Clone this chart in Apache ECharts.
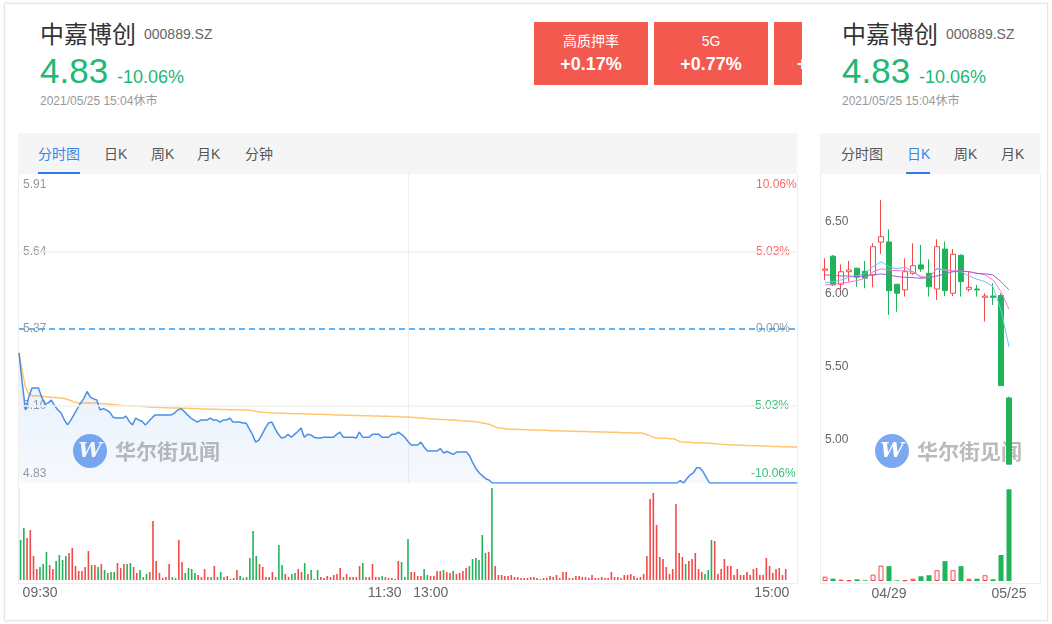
<!DOCTYPE html>
<html>
<head>
<meta charset="utf-8">
<script src="https://cdn.jsdelivr.net/npm/echarts/dist/echarts.min.js"></script>
<style>
  body { margin: 0; background: #fff; }
  #wrap { position: relative; width: 1052px; height: 624px; overflow: hidden; background: #fff;
    font-family: "Liberation Sans", "Noto Sans CJK SC", sans-serif; }
  .frame { position: absolute; left: 4px; top: 3px; width: 1042px; height: 616px; border: 1px solid #e6e6e6;
    box-shadow: 0 0 3px rgba(0,0,0,0.08); }
  .abs { position: absolute; white-space: nowrap; }
  .name { font-size: 24px; line-height: 28px; color: #333; }
  .code { font-size: 14px; line-height: 16px; color: #666; }
  .price { font-size: 35px; line-height: 40px; color: #21b873; }
  .pct { font-size: 18px; line-height: 20px; color: #21b873; }
  .date { font-size: 12px; line-height: 14px; color: #999; }
  .banners { position: absolute; left: 534px; top: 22px; width: 268px; height: 63px; overflow: hidden; }
  .box { position: absolute; top: 0; width: 114px; height: 63px; background: #f4594f; color: #fff; text-align: center; }
  .box .t { position: absolute; left: 0; right: 0; top: 11px; font-size: 14px; line-height: 16px; }
  .box .v { position: absolute; left: 0; right: 0; top: 32px; font-size: 18px; line-height: 20px; font-weight: bold; }
  .tabbar { position: absolute; top: 133px; height: 41px; background: #f5f5f5; }
  .tab { position: absolute; top: 146px; font-size: 14px; line-height: 16px; color: #555; }
  .tab.on { color: #3a84e4; }
  .ul { position: absolute; top: 172px; height: 2px; background: #2b7de9; }
  .panel { position: absolute; border: 1px solid #eeeeee; border-top: none; }
  #chart { position: absolute; left: 0; top: 0; width: 1052px; height: 624px; z-index: 5; }
</style>
</head>
<body>
<div id="wrap">
  <div class="frame"></div>

  <div class="abs name" style="left:40px;top:21px">中嘉博创</div>
  <div class="abs code" style="left:144px;top:26px">000889.SZ</div>
  <div class="abs price" style="left:40px;top:51px">4.83</div>
  <div class="abs pct" style="left:117px;top:67px">-10.06%</div>
  <div class="abs date" style="left:40px;top:94px">2021/05/25 15:04休市</div>

  <div class="banners">
    <div class="box" style="left:0"><div class="t">高质押率</div><div class="v">+0.17%</div></div>
    <div class="box" style="left:120px"><div class="t">5G</div><div class="v">+0.77%</div></div>
    <div class="box" style="left:240px"><div class="v" style="text-align:left;left:23px">+</div></div>
  </div>

  <div class="abs name" style="left:842px;top:21px">中嘉博创</div>
  <div class="abs code" style="left:946px;top:26px">000889.SZ</div>
  <div class="abs price" style="left:842px;top:51px">4.83</div>
  <div class="abs pct" style="left:919px;top:67px">-10.06%</div>
  <div class="abs date" style="left:842px;top:94px">2021/05/25 15:04休市</div>

  <div class="tabbar" style="left:18px;width:779px"></div>
  <div class="tab on" style="left:38px">分时图</div>
  <div class="tab" style="left:104px">日K</div>
  <div class="tab" style="left:151px">周K</div>
  <div class="tab" style="left:197px">月K</div>
  <div class="tab" style="left:245px">分钟</div>
  <div class="ul" style="left:38px;width:42px"></div>
  <div class="panel" style="left:18px;top:174px;width:778px;height:409px"></div>

  <div class="tabbar" style="left:820px;width:220px"></div>
  <div class="tab" style="left:841px">分时图</div>
  <div class="tab on" style="left:907px">日K</div>
  <div class="tab" style="left:954px">周K</div>
  <div class="tab" style="left:1001px">月K</div>
  <div class="ul" style="left:906px;width:24px"></div>
  <div class="panel" style="left:820px;top:174px;width:219px;height:409px"></div>

  <div id="chart"></div>
</div>
<script>
// ---- 分时 data ----
const prevClose = 5.37;
const priceTicks = [4.83, 5.10, 5.37, 5.64, 5.91];
const pctTicks = [-10.06, -5.03, 0, 5.03, 10.06];

const price = [
  5.285, 5.18, 5.085, 5.13, 5.162, 5.162, 5.162, 5.13, 5.105, 5.11,
  5.12, 5.10, 5.085, 5.075, 5.05, 5.033, 5.05, 5.07, 5.09, 5.11,
  5.125, 5.15, 5.13, 5.124, 5.12, 5.085, 5.09, 5.085, 5.078, 5.06,
  5.057, 5.057, 5.057, 5.064, 5.045, 5.033, 5.057, 5.05, 5.045, 5.033,
  5.045, 5.057, 5.068, 5.068, 5.068, 5.068, 5.068, 5.068, 5.075, 5.085,
  5.09, 5.08, 5.068, 5.057, 5.05, 5.043, 5.05, 5.05, 5.05, 5.057,
  5.05, 5.05, 5.043, 5.05, 5.05, 5.057, 5.043, 5.043, 5.043, 5.04,
  5.04, 5.02, 5.0, 4.973, 4.98, 5.0, 5.022, 5.04, 5.043, 5.02,
  5.0, 4.987, 4.99, 5.0, 4.99, 5.0, 5.01, 5.022, 4.99, 5.0,
  4.998, 4.99, 4.987, 4.987, 4.99, 4.99, 4.99, 4.99, 5.0, 5.008,
  4.99, 4.99, 4.99, 4.99, 4.987, 5.008, 4.99, 4.99, 4.99, 5.0,
  5.0, 5.0, 4.99, 4.99, 4.99, 5.0, 5.0, 5.008, 5.0, 4.99,
  4.975, 4.963, 4.963, 4.963, 4.973, 4.955, 4.942, 4.942, 4.942, 4.942,
  4.95, 4.935, 4.94, 4.935, 4.93, 4.938, 4.938, 4.938, 4.938, 4.925,
  4.9, 4.88, 4.865, 4.855, 4.845, 4.84, 4.83, 4.83, 4.83, 4.83,
  4.83, 4.83, 4.83, 4.83, 4.83, 4.83, 4.83, 4.83, 4.83, 4.83,
  4.83, 4.83, 4.83, 4.83, 4.83, 4.83, 4.83, 4.83, 4.83, 4.83,
  4.83, 4.83, 4.83, 4.83, 4.83, 4.83, 4.83, 4.83, 4.83, 4.83,
  4.83, 4.83, 4.83, 4.83, 4.83, 4.83, 4.83, 4.83, 4.83, 4.83,
  4.83, 4.83, 4.83, 4.83, 4.83, 4.83, 4.83, 4.83, 4.83, 4.83,
  4.83, 4.83, 4.83, 4.83, 4.838, 4.83, 4.845, 4.858, 4.865, 4.883,
  4.883, 4.87, 4.85, 4.83, 4.83, 4.83, 4.83, 4.83, 4.83, 4.83,
  4.83, 4.83, 4.83, 4.83, 4.83, 4.83, 4.83, 4.83, 4.83, 4.83,
  4.83, 4.83, 4.83, 4.83, 4.83, 4.83, 4.83, 4.83, 4.83, 4.83,
  4.83
];

const avgPrice = [
  5.285, 5.22, 5.165, 5.14, 5.135, 5.135, 5.134, 5.133, 5.132, 5.13,
  5.13, 5.129, 5.128, 5.127, 5.125, 5.122, 5.118, 5.113, 5.11, 5.11,
  5.11, 5.11, 5.11, 5.11, 5.109, 5.108, 5.107, 5.106, 5.105, 5.104,
  5.103, 5.102, 5.101, 5.1, 5.1, 5.099, 5.098, 5.098, 5.097, 5.097,
  5.096, 5.095, 5.095, 5.094, 5.094, 5.093, 5.093, 5.092, 5.092, 5.092,
  5.091, 5.091, 5.091, 5.09, 5.09, 5.09, 5.089, 5.089, 5.089, 5.088,
  5.088, 5.088, 5.087, 5.087, 5.087, 5.086, 5.086, 5.086, 5.085, 5.085,
  5.085, 5.084, 5.083, 5.081, 5.079, 5.077, 5.076, 5.076, 5.075, 5.075,
  5.075, 5.074, 5.074, 5.073, 5.073, 5.072, 5.072, 5.072, 5.071, 5.071,
  5.071, 5.07, 5.07, 5.07, 5.069, 5.069, 5.069, 5.068, 5.068, 5.068,
  5.067, 5.067, 5.067, 5.066, 5.066, 5.066, 5.065, 5.065, 5.065, 5.064,
  5.064, 5.064, 5.063, 5.063, 5.063, 5.062, 5.062, 5.062, 5.061, 5.061,
  5.061, 5.06, 5.059, 5.058, 5.057, 5.056, 5.055, 5.054, 5.054, 5.053,
  5.052, 5.052, 5.051, 5.05, 5.05, 5.049, 5.048, 5.047, 5.047, 5.046,
  5.045, 5.044, 5.042, 5.04, 5.038, 5.035, 5.031, 5.026, 5.022, 5.021,
  5.02, 5.019, 5.018, 5.018, 5.017, 5.017, 5.016, 5.016, 5.015, 5.015,
  5.015, 5.014, 5.014, 5.014, 5.013, 5.013, 5.013, 5.012, 5.012, 5.012,
  5.011, 5.011, 5.011, 5.01, 5.01, 5.01, 5.009, 5.009, 5.009, 5.008,
  5.008, 5.008, 5.007, 5.007, 5.007, 5.007, 5.006, 5.006, 5.006, 5.006,
  5.005, 5.005, 5.005, 5.002, 4.998, 4.993, 4.989, 4.987, 4.986, 4.986,
  4.986, 4.985, 4.985, 4.979, 4.974, 4.973, 4.972, 4.972, 4.971, 4.971,
  4.971, 4.97, 4.97, 4.969, 4.968, 4.967, 4.966, 4.965, 4.965, 4.964,
  4.963, 4.963, 4.962, 4.962, 4.961, 4.961, 4.96, 4.96, 4.96, 4.959,
  4.959, 4.959, 4.958, 4.958, 4.958, 4.957, 4.957, 4.957, 4.956, 4.956,
  4.956
];

const volume = [
  40, 52, 42, 50, 24, 11, 13, 16, 28, 15, 11, 19, 25, 20, 24, 27, 32, 14, 9, 9,
  13, 29, 15, 15, 13, 16, 10, 7, 8, 8, 17, 12, 16, 16, 17, 13, 7, 10, 3, 6,
  8, 59, 19, 7, 2, 3, 16, 3, 2, 40, 18, 7, 12, 11, 7, 5, 3, 11, 3, 3,
  14, 3, 8, 3, 4, 1, 2, 10, 4, 2, 3, 22, 49, 24, 16, 13, 3,
  3, 8, 3, 35, 15, 6, 3, 6, 7, 11, 8, 17, 6, 10, 1, 10, 3, 2, 4, 3,
  5, 6, 12, 3, 6, 3, 3, 3, 14, 17, 3, 3, 16, 3, 3, 4, 3, 2, 2, 1,
  19, 18, 3, 41, 8, 8, 4, 4, 11, 5, 4, 4, 9, 9, 10, 8, 7, 9, 6, 7,
  9, 12, 14, 21, 22, 20, 45, 27, 28, 92, 14, 5, 5, 4, 4, 5, 3, 3,
  2, 2, 2, 3, 3, 2, 1, 2, 2, 4, 3, 5, 2, 8, 8, 2, 2, 4, 4, 3,
  3, 2, 5, 2, 2, 3, 2, 2, 8, 3, 3, 2, 5, 5, 6, 4, 2, 3, 6, 24,
  81, 87, 55, 23, 21, 13, 6, 11, 76, 27, 23, 16, 19, 21, 27, 11, 8, 6, 10, 40,
  39, 6, 11, 21, 14, 14, 5, 11, 5, 5, 8, 5, 11, 12, 5, 5, 22, 14, 7, 11,
  12, 5, 11
];
// r = 红(涨), g = 绿(跌)
const volumeDir =
  'ggrrrrgggr' + 'rggggrrrrr' + 'rrgrgrgrgg' + 'rrrggrrggg' + 'rrrrrrrggr' + 'rggggrrrrg' + 'rggrrgrrgg' + 'ggggrrr' +
  'rrgggrrggr' + 'rgrgggrrrr' + 'rrrgrrrrrg' + 'rrrrrgrrrr' + 'rgggrrrrgg' + 'rrrrgrrgrr' + 'rrggggggrg' + 'rrrrrrrr' +
  'rrrrrrrrrr' + 'rrrrrrrrrr' + 'rrrrrrrrrr' + 'rrrrrrrrrr' + 'rrrrrrrrrr' + 'rgrrrrrggg' + 'rrrrrrrrrr' + 'rrrrrrrrrr' + 'rrr';

const times = [];
const hhmm = m => String(Math.floor(m / 60)).padStart(2, '0') + ':' + String(m % 60).padStart(2, '0');
for (let m = 0; m <= 120; m++) times.push(hhmm(570 + m));
for (let m = 1; m <= 120; m++) times.push(hhmm(780 + m));

// ---- 日K data ----
const kDates = ['04/19', '04/20', '04/21', '04/22', '04/23', '04/26', '04/27', '04/28', '04/29', '04/30', '05/06', '05/07',
  '05/10', '05/11', '05/12', '05/13', '05/14', '05/17', '05/18', '05/19', '05/20', '05/21', '05/24', '05/25'];
const kOpen  = [6.163, 6.26, 6.067, 6.153, 6.177, 6.156, 6.131, 6.356, 6.358, 6.067, 6.028, 6.142,
  6.20, 6.142, 6.034, 6.309, 6.005, 6.266, 6.032, 6.034, 5.977, 5.986, 5.99, 5.285];
const kClose = [6.172, 6.062, 6.153, 6.165, 6.115, 6.108, 6.325, 6.394, 6.023, 6.005, 6.153, 6.195,
  6.172, 6.05, 6.325, 6.023, 6.273, 6.085, 6.046, 6.028, 5.986, 5.977, 5.37, 4.83];
const kLow   = [6.096, 6.055, 6.034, 6.085, 6.05, 6.039, 6.046, 6.275, 5.856, 5.878, 5.982, 6.131,
  6.153, 5.982, 5.959, 5.986, 5.986, 5.982, 6.016, 5.982, 5.81, 5.924, 5.37, 4.83];
const kHigh  = [6.245, 6.268, 6.204, 6.227, 6.181, 6.227, 6.349, 6.646, 6.445, 6.067, 6.245, 6.349,
  6.337, 6.239, 6.376, 6.36, 6.309, 6.273, 6.153, 6.062, 6.005, 6.074, 6.005, 5.294];
const ma5  = [6.078, 6.085, 6.096, 6.115, 6.124, 6.142, 6.188, 6.222, 6.188, 6.172, 6.183, 6.153,
  6.112, 6.115, 6.177, 6.165, 6.153, 6.153, 6.124, 6.101, 6.085, 6.05, 5.89, 5.637];
const ma10 = [6.062, 6.067, 6.074, 6.081, 6.092, 6.108, 6.153, 6.172, 6.165, 6.16, 6.16, 6.153,
  6.119, 6.115, 6.172, 6.165, 6.16, 6.158, 6.153, 6.142, 6.131, 6.096, 6.016, 5.895];
const ma20 = [6.131, 6.128, 6.124, 6.124, 6.119, 6.124, 6.131, 6.138, 6.131, 6.119, 6.115, 6.112,
  6.108, 6.112, 6.124, 6.138, 6.153, 6.158, 6.153, 6.142, 6.138, 6.131, 6.085, 6.028];
const kVolume = [4.3, 2.3, 1.3, 0.7, 1.7, 0.7, 6.3, 15.3, 14.7, 0.7, 0.7, 2.3,
  4.7, 5.7, 10.7, 19.7, 10.7, 14.7, 2.3, 2.3, 5.7, 1.7, 25.7, 90.7];
const kTickValues = [5.0, 5.5, 6.0, 6.5];

const RED = '#f24a48';
const GREEN = '#20b45a';
const FONT = '"Liberation Sans", "Noto Sans CJK SC", sans-serif';

const chart = echarts.init(document.getElementById('chart'), null, { renderer: 'canvas' });

// 上下两端的刻度标签往里挪
function edgeLabel(v, lo, hi, txt, style) {
  if (v === hi) return '{' + style + 'T|' + txt + '}';
  if (v === lo) return '{' + style + 'B|' + txt + '}';
  return '{' + style + '|' + txt + '}';
}
function richSet(name, color, padLeft) {
  const o = {};
  o[name] = { color: color, fontSize: 12, fontFamily: FONT, padding: [0, 0, 0, padLeft] };
  o[name + 'T'] = { color: color, fontSize: 12, fontFamily: FONT, padding: [22, 0, 0, padLeft] };
  o[name + 'B'] = { color: color, fontSize: 12, fontFamily: FONT, padding: [0, 0, 18, padLeft] };
  return o;
}

function watermark(cx, cy, tx) {
  return [
    { type: 'circle', shape: { cx: cx, cy: cy, r: 17 }, style: { fill: 'rgba(70,135,235,0.72)' }, z: 1 },
    { type: 'text', x: cx, y: cy + 1, style: { text: 'W', fill: '#fff', font: 'bold italic 21px "DejaVu Serif"',
      align: 'center', verticalAlign: 'middle' }, z: 1 },
    { type: 'text', x: tx, y: cy, style: { text: '华尔街见闻', fill: 'rgba(130,130,130,0.55)',
      font: 'bold 21px "Noto Sans CJK SC"', verticalAlign: 'middle' }, z: 1 }
  ];
}

chart.setOption({
  animation: false,
  textStyle: { fontFamily: FONT },
  graphic: watermark(90, 451, 115).concat(watermark(892, 451, 917)),
  grid: [
    { left: 19, top: 174, width: 778, height: 309 },
    { left: 19, top: 488, width: 778, height: 92 },
    { left: 821, top: 175, width: 192, height: 313 },
    { left: 821, top: 489, width: 192, height: 92 }
  ],
  xAxis: [
    { type: 'category', gridIndex: 0, data: times, boundaryGap: false,
      axisLine: { show: false }, axisTick: { show: false }, axisLabel: { show: false },
      splitLine: { show: true, interval: i => i === 120, lineStyle: { color: '#eeeeee' } } },
    { type: 'category', gridIndex: 1, data: times, boundaryGap: true,
      axisLine: { show: false }, axisTick: { show: false },
      splitLine: { show: true, interval: i => i === 120, lineStyle: { color: '#eeeeee' } },
      axisLabel: {
        interval: i => i === 0 || i === 120 || i === 240,
        alignMinLabel: 'left', alignMaxLabel: 'right', margin: 6,
        color: '#666', fontSize: 14,
        formatter: (v, i) => i === 0 ? '{a|09:30}' : i === 120 ? '11:30   13:00' : '{b|15:00}',
        rich: {
          a: { color: '#666', fontSize: 14, padding: [0, 0, 0, 2] },
          b: { color: '#666', fontSize: 14, padding: [0, 6, 0, 0] }
        }
      } },
    { type: 'category', gridIndex: 2, data: kDates, boundaryGap: true,
      axisLine: { show: false }, axisTick: { show: false }, axisLabel: { show: false }, splitLine: { show: false } },
    { type: 'category', gridIndex: 3, data: kDates, boundaryGap: true,
      axisLine: { show: false }, axisTick: { show: false }, splitLine: { show: false },
      axisLabel: { interval: i => i === 8 || i === 23, color: '#666', fontSize: 14, margin: 6 } }
  ],
  yAxis: [
    { type: 'value', gridIndex: 0, min: 4.83, max: 5.91, position: 'left',
      axisLine: { show: false }, axisTick: { show: false }, splitLine: { show: false },
      axisLabel: {
        inside: true, margin: 4, align: 'left', customValues: priceTicks,
        formatter: v => edgeLabel(v, 4.83, 5.91, v.toFixed(2), 'g'),
        rich: richSet('g', '#999', 0)
      } },
    { type: 'value', gridIndex: 0, min: -10.06, max: 10.06, position: 'right',
      axisLine: { show: false }, axisTick: { show: false }, splitLine: { show: false },
      axisLabel: {
        inside: true, margin: 46, align: 'left', customValues: pctTicks,
        formatter: v => edgeLabel(v, -10.06, 10.06, v.toFixed(2) + '%', v > 0 ? 'up' : v < 0 ? 'dn' : 'z'),
        rich: Object.assign({}, richSet('up', '#f76b6b', 5), richSet('dn', '#3cc07a', 0), richSet('z', '#999', 5))
      } },
    { type: 'value', gridIndex: 1, min: 0, max: 92, show: false },
    { type: 'value', gridIndex: 2, min: 4.666, max: 6.818,
      axisLine: { show: false }, axisTick: { show: false }, splitLine: { show: false },
      axisLabel: { inside: true, margin: 4, align: 'left', customValues: kTickValues,
        formatter: v => v.toFixed(2), color: '#666', fontSize: 12 } },
    { type: 'value', gridIndex: 3, min: 0, max: 91, show: false }
  ],
  series: [
    { name: '价格', type: 'line', xAxisIndex: 0, yAxisIndex: 0, data: price,
      showSymbol: false, z: 4,
      lineStyle: { color: '#4a8fe7', width: 1.5 },
      areaStyle: { color: new echarts.graphic.LinearGradient(0, 0, 0, 1, [
        { offset: 0, color: 'rgba(74,143,231,0.20)' }, { offset: 1, color: 'rgba(74,143,231,0.07)' }]) },
      markLine: {
        silent: true, symbol: 'none', label: { show: false },
        data: [
          { yAxis: 5.64, lineStyle: { color: '#f0f0f0', type: 'solid', width: 1.5 } },
          { yAxis: 5.10, lineStyle: { color: '#f0f0f0', type: 'solid', width: 1.5 } },
          { yAxis: prevClose, lineStyle: { color: '#2a9ff6', type: [6, 4], width: 1.5 } }
        ]
      } },
    { name: '均价', type: 'line', xAxisIndex: 0, yAxisIndex: 0, data: avgPrice,
      showSymbol: false, z: 3, lineStyle: { color: '#ffc66c', width: 1.5 } },
    { name: '成交量', type: 'bar', xAxisIndex: 1, yAxisIndex: 2, barWidth: 1.6,
      data: volume.map((v, i) => ({ value: v, itemStyle: { color: volumeDir[i] === 'r' ? RED : GREEN } })) },
    { name: '日K', type: 'candlestick', xAxisIndex: 2, yAxisIndex: 3, barWidth: 5,
      data: kDates.map((d, i) => [kOpen[i], kClose[i], kLow[i], kHigh[i]]),
      itemStyle: { color: '#fff', color0: GREEN, borderColor: RED, borderColor0: GREEN, borderWidth: 1 } },
    { name: 'MA5', type: 'line', xAxisIndex: 2, yAxisIndex: 3, data: ma5, showSymbol: false,
      lineStyle: { color: '#6cc3f6', width: 1 } },
    { name: 'MA10', type: 'line', xAxisIndex: 2, yAxisIndex: 3, data: ma10, showSymbol: false,
      lineStyle: { color: '#fb78cf', width: 1 } },
    { name: 'MA20', type: 'line', xAxisIndex: 2, yAxisIndex: 3, data: ma20, showSymbol: false,
      lineStyle: { color: '#a45fd6', width: 1 } },
    { name: '日K成交量', type: 'bar', xAxisIndex: 3, yAxisIndex: 4, barWidth: 5,
      data: kVolume.map((v, i) => ({ value: v, itemStyle: kClose[i] >= kOpen[i]
        ? { color: '#fff', borderColor: RED, borderWidth: 1 } : { color: GREEN } })) }
  ]
});
</script>
</body>
</html>
